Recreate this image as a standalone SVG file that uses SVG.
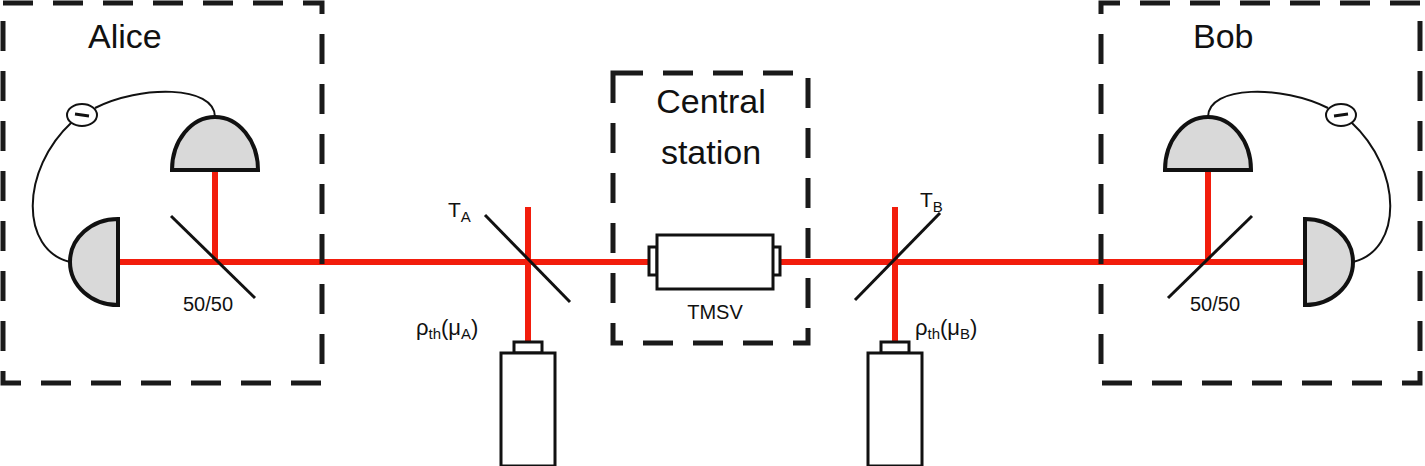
<svg xmlns="http://www.w3.org/2000/svg" width="1425" height="466" viewBox="0 0 1425 466">
<style>
.box{fill:none;stroke:#1a1a1a;stroke-width:5;stroke-dasharray:30 20}
.beam{stroke:#f21d0c;stroke-width:6;fill:none}
.bs{stroke:#111;stroke-width:3}
.det{fill:#d9d9d9;stroke:#111;stroke-width:4}
.wire{fill:none;stroke:#111;stroke-width:2}
.el{fill:#fff;stroke:#111;stroke-width:3}
text{font-family:"Liberation Sans",Arial,sans-serif;fill:#111}
</style>
<defs>
<g id="station">
<rect class="box" x="3" y="3" width="319" height="380"/>
<line class="beam" x1="215" y1="170" x2="215" y2="262"/>
<path class="det" d="M118,219 V305 A48,43 0 0 1 118,219 Z"/>
<path class="det" d="M172,170 H258 A43,53 0 0 0 172,170 Z"/>
<line class="bs" x1="171" y1="216" x2="255" y2="298"/>
<path class="wire" d="M70,262 C20,250 20,170 72,122"/>
<path class="wire" d="M95,108 C140,85 215,85 215,117"/>
<ellipse cx="82" cy="115" rx="15" ry="11" fill="#fff" stroke="#111" stroke-width="2"/>
<line x1="75" y1="114" x2="89" y2="116" stroke="#111" stroke-width="3"/>
</g>
</defs>
<g id="connectors">
<line class="beam" x1="118" y1="262" x2="1305" y2="262"/>
<line class="beam" x1="528" y1="207" x2="528" y2="343"/>
<line class="beam" x1="895" y1="207" x2="895" y2="343"/>
</g>
<g id="alice">
<use href="#station"/>
<text x="88" y="48" font-size="34">Alice</text>
<text x="208" y="311" font-size="20" text-anchor="middle">50/50</text>
</g>
<g id="bob">
<use href="#station" transform="translate(1423,0) scale(-1,1)"/>
<text x="1193" y="48" font-size="34">Bob</text>
<text x="1215" y="311" font-size="20" text-anchor="middle">50/50</text>
</g>
<g id="central">
<rect class="box" x="613" y="73" width="195" height="270"/>
<text x="711" y="113" font-size="34" text-anchor="middle">Central</text>
<text x="711" y="164" font-size="34" text-anchor="middle">station</text>
<rect x="649" y="247" width="8" height="28" class="el"/>
<rect x="772" y="247" width="8" height="28" class="el"/>
<rect x="657" y="235" width="116" height="54" class="el"/>
<text x="715" y="319" font-size="20" text-anchor="middle">TMSV</text>
</g>
<g id="ta">
<line class="bs" x1="485" y1="215" x2="570" y2="302"/>
<text x="448" y="217" font-size="21">T<tspan font-size="15" dy="5">A</tspan></text>
</g>
<g id="tb">
<line class="bs" x1="855" y1="300" x2="940" y2="213"/>
<text x="920" y="207" font-size="21">T<tspan font-size="15" dy="5">B</tspan></text>
</g>
<g id="sourceA">
<text x="416" y="335" font-size="22">ρ<tspan font-size="15" dy="4">th</tspan><tspan dy="-4">(μ</tspan><tspan font-size="15" dy="4">A</tspan><tspan dy="-4">)</tspan></text>
<rect x="514" y="342" width="28" height="11" class="el"/>
<rect x="501" y="353" width="54" height="113" class="el"/>
</g>
<g id="sourceB">
<text x="915" y="335" font-size="22">ρ<tspan font-size="15" dy="4">th</tspan><tspan dy="-4">(μ</tspan><tspan font-size="15" dy="4">B</tspan><tspan dy="-4">)</tspan></text>
<rect x="881" y="342" width="28" height="11" class="el"/>
<rect x="868" y="353" width="54" height="113" class="el"/>
</g>
</svg>
